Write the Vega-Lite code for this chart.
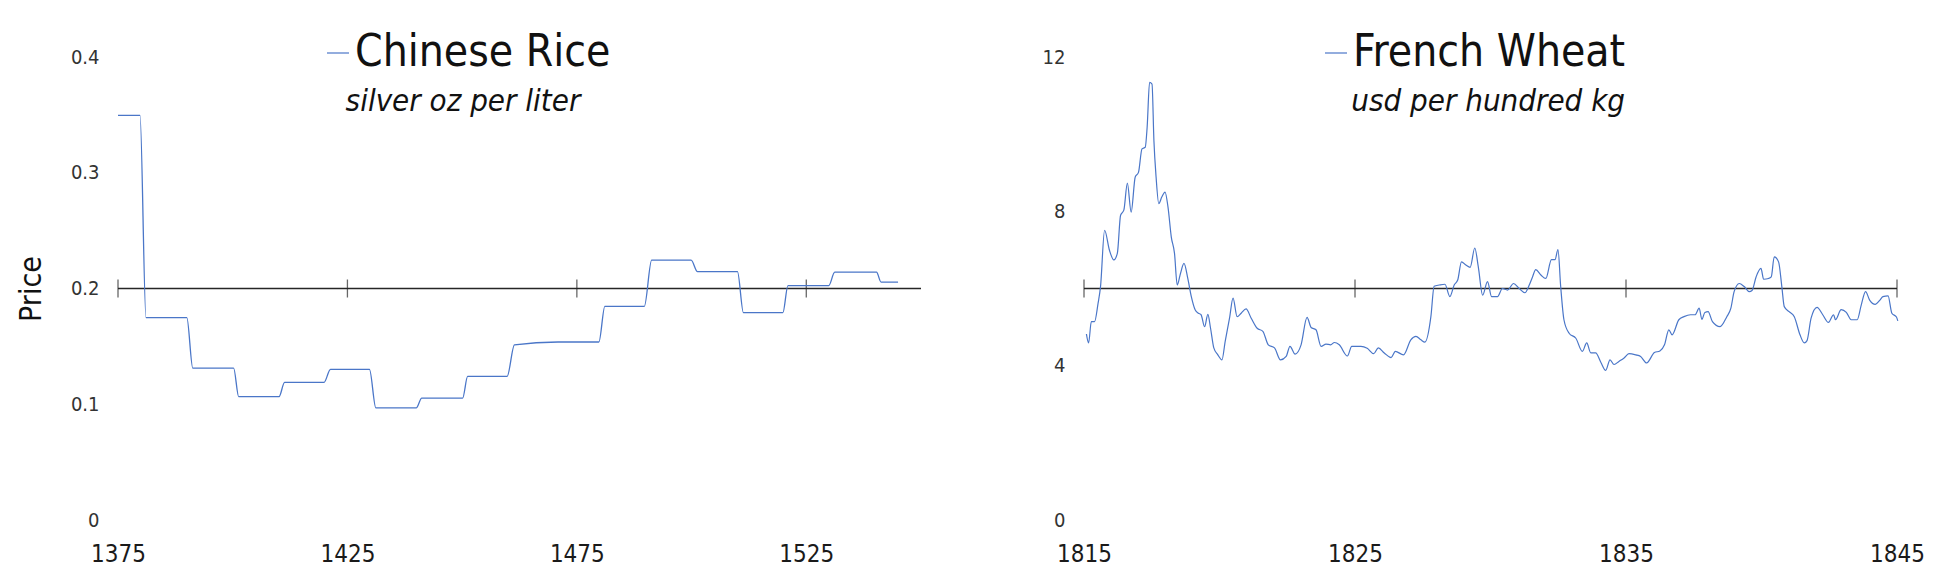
{
  "$schema": "https://vega.github.io/schema/vega-lite/v6.json",
  "padding": {"left": 16, "top": 31, "right": 0, "bottom": 0},
  "background": "white",
  "datasets": {
    "rice": [
      {"series": "Chinese Rice", "year": 1375, "price": 0.3495},
      {"series": "Chinese Rice", "year": 1379.8, "price": 0.3495},
      {"series": "Chinese Rice", "year": 1381.1, "price": 0.1749},
      {"series": "Chinese Rice", "year": 1390.0, "price": 0.1749},
      {"series": "Chinese Rice", "year": 1391.3, "price": 0.1312},
      {"series": "Chinese Rice", "year": 1400.2, "price": 0.1312},
      {"series": "Chinese Rice", "year": 1401.3, "price": 0.1066},
      {"series": "Chinese Rice", "year": 1410.1, "price": 0.1066},
      {"series": "Chinese Rice", "year": 1411.3, "price": 0.1189},
      {"series": "Chinese Rice", "year": 1419.9, "price": 0.1189},
      {"series": "Chinese Rice", "year": 1421.3, "price": 0.1302},
      {"series": "Chinese Rice", "year": 1429.8, "price": 0.1302},
      {"series": "Chinese Rice", "year": 1431.2, "price": 0.0968},
      {"series": "Chinese Rice", "year": 1440.0, "price": 0.0968},
      {"series": "Chinese Rice", "year": 1441.2, "price": 0.1053},
      {"series": "Chinese Rice", "year": 1450.1, "price": 0.1053},
      {"series": "Chinese Rice", "year": 1451.2, "price": 0.124},
      {"series": "Chinese Rice", "year": 1459.8, "price": 0.124},
      {"series": "Chinese Rice", "year": 1461.4, "price": 0.1513},
      {"series": "Chinese Rice", "year": 1470.9, "price": 0.1538},
      {"series": "Chinese Rice", "year": 1479.8, "price": 0.1538},
      {"series": "Chinese Rice", "year": 1481.1, "price": 0.1846},
      {"series": "Chinese Rice", "year": 1489.7, "price": 0.1846},
      {"series": "Chinese Rice", "year": 1491.3, "price": 0.2245},
      {"series": "Chinese Rice", "year": 1499.9, "price": 0.2245},
      {"series": "Chinese Rice", "year": 1501.3, "price": 0.2145},
      {"series": "Chinese Rice", "year": 1510.0, "price": 0.2145},
      {"series": "Chinese Rice", "year": 1511.3, "price": 0.1791},
      {"series": "Chinese Rice", "year": 1519.9, "price": 0.1791},
      {"series": "Chinese Rice", "year": 1521.0, "price": 0.2025},
      {"series": "Chinese Rice", "year": 1529.9, "price": 0.2025},
      {"series": "Chinese Rice", "year": 1531.2, "price": 0.2141},
      {"series": "Chinese Rice", "year": 1540.3, "price": 0.2141},
      {"series": "Chinese Rice", "year": 1541.3, "price": 0.2055},
      {"series": "Chinese Rice", "year": 1545.0, "price": 0.2055}
    ],
    "wheat": [
      {"series": "French Wheat", "year": 1815.09, "price": 4.82},
      {"series": "French Wheat", "year": 1815.17, "price": 4.59},
      {"series": "French Wheat", "year": 1815.27, "price": 5.14},
      {"series": "French Wheat", "year": 1815.39, "price": 5.14},
      {"series": "French Wheat", "year": 1815.52, "price": 5.62},
      {"series": "French Wheat", "year": 1815.61, "price": 6.05},
      {"series": "French Wheat", "year": 1815.76, "price": 7.51},
      {"series": "French Wheat", "year": 1815.94, "price": 6.99},
      {"series": "French Wheat", "year": 1816.1, "price": 6.74},
      {"series": "French Wheat", "year": 1816.23, "price": 6.91},
      {"series": "French Wheat", "year": 1816.35, "price": 7.9},
      {"series": "French Wheat", "year": 1816.47, "price": 8.03},
      {"series": "French Wheat", "year": 1816.6, "price": 8.73},
      {"series": "French Wheat", "year": 1816.74, "price": 7.98},
      {"series": "French Wheat", "year": 1816.89, "price": 8.89},
      {"series": "French Wheat", "year": 1817.01, "price": 9.01},
      {"series": "French Wheat", "year": 1817.14, "price": 9.62},
      {"series": "French Wheat", "year": 1817.26, "price": 9.66},
      {"series": "French Wheat", "year": 1817.33, "price": 10.18},
      {"series": "French Wheat", "year": 1817.42, "price": 11.34},
      {"series": "French Wheat", "year": 1817.51, "price": 11.3},
      {"series": "French Wheat", "year": 1817.58, "price": 9.83},
      {"series": "French Wheat", "year": 1817.66, "price": 8.89},
      {"series": "French Wheat", "year": 1817.76, "price": 8.2},
      {"series": "French Wheat", "year": 1817.87, "price": 8.37},
      {"series": "French Wheat", "year": 1817.99, "price": 8.5},
      {"series": "French Wheat", "year": 1818.1, "price": 8.11},
      {"series": "French Wheat", "year": 1818.22, "price": 7.34},
      {"series": "French Wheat", "year": 1818.34, "price": 6.91},
      {"series": "French Wheat", "year": 1818.44, "price": 6.09},
      {"series": "French Wheat", "year": 1818.56, "price": 6.39},
      {"series": "French Wheat", "year": 1818.69, "price": 6.65},
      {"series": "French Wheat", "year": 1818.83, "price": 6.26},
      {"series": "French Wheat", "year": 1818.96, "price": 5.79},
      {"series": "French Wheat", "year": 1819.1, "price": 5.45},
      {"series": "French Wheat", "year": 1819.22, "price": 5.36},
      {"series": "French Wheat", "year": 1819.32, "price": 5.32},
      {"series": "French Wheat", "year": 1819.45, "price": 5.01},
      {"series": "French Wheat", "year": 1819.57, "price": 5.33},
      {"series": "French Wheat", "year": 1819.67, "price": 4.97},
      {"series": "French Wheat", "year": 1819.79, "price": 4.46},
      {"series": "French Wheat", "year": 1819.94, "price": 4.28},
      {"series": "French Wheat", "year": 1820.09, "price": 4.15},
      {"series": "French Wheat", "year": 1820.21, "price": 4.63},
      {"series": "French Wheat", "year": 1820.37, "price": 5.23},
      {"series": "French Wheat", "year": 1820.5, "price": 5.75},
      {"series": "French Wheat", "year": 1820.65, "price": 5.27},
      {"series": "French Wheat", "year": 1820.8, "price": 5.36},
      {"series": "French Wheat", "year": 1820.98, "price": 5.47},
      {"series": "French Wheat", "year": 1821.17, "price": 5.23},
      {"series": "French Wheat", "year": 1821.39, "price": 4.97},
      {"series": "French Wheat", "year": 1821.6, "price": 4.89},
      {"series": "French Wheat", "year": 1821.8, "price": 4.54},
      {"series": "French Wheat", "year": 1822.03, "price": 4.46},
      {"series": "French Wheat", "year": 1822.25, "price": 4.15},
      {"series": "French Wheat", "year": 1822.46, "price": 4.24},
      {"series": "French Wheat", "year": 1822.6, "price": 4.5},
      {"series": "French Wheat", "year": 1822.79, "price": 4.3},
      {"series": "French Wheat", "year": 1823.01, "price": 4.54},
      {"series": "French Wheat", "year": 1823.23, "price": 5.25},
      {"series": "French Wheat", "year": 1823.38, "price": 4.99},
      {"series": "French Wheat", "year": 1823.56, "price": 4.93},
      {"series": "French Wheat", "year": 1823.75, "price": 4.5},
      {"series": "French Wheat", "year": 1823.93, "price": 4.56},
      {"series": "French Wheat", "year": 1824.1, "price": 4.54},
      {"series": "French Wheat", "year": 1824.24, "price": 4.6},
      {"series": "French Wheat", "year": 1824.42, "price": 4.54},
      {"series": "French Wheat", "year": 1824.72, "price": 4.25},
      {"series": "French Wheat", "year": 1824.88, "price": 4.5},
      {"series": "French Wheat", "year": 1825.22, "price": 4.5},
      {"series": "French Wheat", "year": 1825.45, "price": 4.45},
      {"series": "French Wheat", "year": 1825.69, "price": 4.31},
      {"series": "French Wheat", "year": 1825.86, "price": 4.46},
      {"series": "French Wheat", "year": 1826.08, "price": 4.33},
      {"series": "French Wheat", "year": 1826.33, "price": 4.21},
      {"series": "French Wheat", "year": 1826.49, "price": 4.37},
      {"series": "French Wheat", "year": 1826.79, "price": 4.28},
      {"series": "French Wheat", "year": 1827.06, "price": 4.67},
      {"series": "French Wheat", "year": 1827.25, "price": 4.76},
      {"series": "French Wheat", "year": 1827.43, "price": 4.67},
      {"series": "French Wheat", "year": 1827.58, "price": 4.61},
      {"series": "French Wheat", "year": 1827.8, "price": 5.27},
      {"series": "French Wheat", "year": 1827.92, "price": 6.06},
      {"series": "French Wheat", "year": 1828.11, "price": 6.09},
      {"series": "French Wheat", "year": 1828.32, "price": 6.11},
      {"series": "French Wheat", "year": 1828.5, "price": 5.79},
      {"series": "French Wheat", "year": 1828.66, "price": 6.09},
      {"series": "French Wheat", "year": 1828.79, "price": 6.22},
      {"series": "French Wheat", "year": 1828.93, "price": 6.69},
      {"series": "French Wheat", "year": 1829.09, "price": 6.61},
      {"series": "French Wheat", "year": 1829.25, "price": 6.55},
      {"series": "French Wheat", "year": 1829.42, "price": 7.05},
      {"series": "French Wheat", "year": 1829.55, "price": 6.56},
      {"series": "French Wheat", "year": 1829.71, "price": 5.83},
      {"series": "French Wheat", "year": 1829.89, "price": 6.18},
      {"series": "French Wheat", "year": 1830.04, "price": 5.79},
      {"series": "French Wheat", "year": 1830.26, "price": 5.79},
      {"series": "French Wheat", "year": 1830.44, "price": 6.0},
      {"series": "French Wheat", "year": 1830.63, "price": 5.96},
      {"series": "French Wheat", "year": 1830.85, "price": 6.13},
      {"series": "French Wheat", "year": 1831.06, "price": 6.0},
      {"series": "French Wheat", "year": 1831.27, "price": 5.89},
      {"series": "French Wheat", "year": 1831.43, "price": 6.09},
      {"series": "French Wheat", "year": 1831.55, "price": 6.3},
      {"series": "French Wheat", "year": 1831.67, "price": 6.49},
      {"series": "French Wheat", "year": 1831.86, "price": 6.35},
      {"series": "French Wheat", "year": 1832.04, "price": 6.26},
      {"series": "French Wheat", "year": 1832.25, "price": 6.75},
      {"series": "French Wheat", "year": 1832.38, "price": 6.75},
      {"series": "French Wheat", "year": 1832.49, "price": 7.01},
      {"series": "French Wheat", "year": 1832.59, "price": 6.05},
      {"series": "French Wheat", "year": 1832.71, "price": 5.19},
      {"series": "French Wheat", "year": 1832.9, "price": 4.84},
      {"series": "French Wheat", "year": 1833.15, "price": 4.71},
      {"series": "French Wheat", "year": 1833.39, "price": 4.37},
      {"series": "French Wheat", "year": 1833.55, "price": 4.59},
      {"series": "French Wheat", "year": 1833.7, "price": 4.33},
      {"series": "French Wheat", "year": 1833.88, "price": 4.33},
      {"series": "French Wheat", "year": 1834.07, "price": 4.09},
      {"series": "French Wheat", "year": 1834.25, "price": 3.88},
      {"series": "French Wheat", "year": 1834.41, "price": 4.15},
      {"series": "French Wheat", "year": 1834.56, "price": 4.03},
      {"series": "French Wheat", "year": 1834.74, "price": 4.11},
      {"series": "French Wheat", "year": 1834.93, "price": 4.2},
      {"series": "French Wheat", "year": 1835.11, "price": 4.31},
      {"series": "French Wheat", "year": 1835.36, "price": 4.28},
      {"series": "French Wheat", "year": 1835.54, "price": 4.24},
      {"series": "French Wheat", "year": 1835.76, "price": 4.07},
      {"series": "French Wheat", "year": 1836.05, "price": 4.34},
      {"series": "French Wheat", "year": 1836.25, "price": 4.38},
      {"series": "French Wheat", "year": 1836.42, "price": 4.54},
      {"series": "French Wheat", "year": 1836.58, "price": 4.93},
      {"series": "French Wheat", "year": 1836.7, "price": 4.8},
      {"series": "French Wheat", "year": 1836.95, "price": 5.19},
      {"series": "French Wheat", "year": 1837.14, "price": 5.27},
      {"series": "French Wheat", "year": 1837.38, "price": 5.32},
      {"series": "French Wheat", "year": 1837.55, "price": 5.32},
      {"series": "French Wheat", "year": 1837.7, "price": 5.49},
      {"series": "French Wheat", "year": 1837.8, "price": 5.2},
      {"series": "French Wheat", "year": 1837.91, "price": 5.38},
      {"series": "French Wheat", "year": 1838.03, "price": 5.4},
      {"series": "French Wheat", "year": 1838.19, "price": 5.14},
      {"series": "French Wheat", "year": 1838.47, "price": 5.01},
      {"series": "French Wheat", "year": 1838.72, "price": 5.27},
      {"series": "French Wheat", "year": 1838.87, "price": 5.49},
      {"series": "French Wheat", "year": 1838.99, "price": 5.92},
      {"series": "French Wheat", "year": 1839.18, "price": 6.13},
      {"series": "French Wheat", "year": 1839.36, "price": 6.05},
      {"series": "French Wheat", "year": 1839.55, "price": 5.92},
      {"series": "French Wheat", "year": 1839.65, "price": 5.95},
      {"series": "French Wheat", "year": 1839.8, "price": 6.3},
      {"series": "French Wheat", "year": 1839.98, "price": 6.52},
      {"series": "French Wheat", "year": 1840.08, "price": 6.24},
      {"series": "French Wheat", "year": 1840.26, "price": 6.26},
      {"series": "French Wheat", "year": 1840.36, "price": 6.3},
      {"series": "French Wheat", "year": 1840.47, "price": 6.82},
      {"series": "French Wheat", "year": 1840.63, "price": 6.69},
      {"series": "French Wheat", "year": 1840.75, "price": 6.05},
      {"series": "French Wheat", "year": 1840.84, "price": 5.53},
      {"series": "French Wheat", "year": 1841.02, "price": 5.4},
      {"series": "French Wheat", "year": 1841.21, "price": 5.27},
      {"series": "French Wheat", "year": 1841.42, "price": 4.8},
      {"series": "French Wheat", "year": 1841.58, "price": 4.59},
      {"series": "French Wheat", "year": 1841.68, "price": 4.65},
      {"series": "French Wheat", "year": 1841.83, "price": 5.23},
      {"series": "French Wheat", "year": 1842.05, "price": 5.51},
      {"series": "French Wheat", "year": 1842.26, "price": 5.32},
      {"series": "French Wheat", "year": 1842.47, "price": 5.12},
      {"series": "French Wheat", "year": 1842.66, "price": 5.32},
      {"series": "French Wheat", "year": 1842.73, "price": 5.19},
      {"series": "French Wheat", "year": 1842.94, "price": 5.45},
      {"series": "French Wheat", "year": 1843.13, "price": 5.38},
      {"series": "French Wheat", "year": 1843.31, "price": 5.19},
      {"series": "French Wheat", "year": 1843.53, "price": 5.19},
      {"series": "French Wheat", "year": 1843.68, "price": 5.57},
      {"series": "French Wheat", "year": 1843.84, "price": 5.92},
      {"series": "French Wheat", "year": 1843.99, "price": 5.7},
      {"series": "French Wheat", "year": 1844.2, "price": 5.59},
      {"series": "French Wheat", "year": 1844.36, "price": 5.69},
      {"series": "French Wheat", "year": 1844.48, "price": 5.79},
      {"series": "French Wheat", "year": 1844.67, "price": 5.81},
      {"series": "French Wheat", "year": 1844.81, "price": 5.36},
      {"series": "French Wheat", "year": 1844.98, "price": 5.26},
      {"series": "French Wheat", "year": 1845.03, "price": 5.16}
    ],
    "riceTicks": [{"year": 1375}, {"year": 1425}, {"year": 1475}, {"year": 1525}],
    "wheatTicks": [{"year": 1815}, {"year": 1825}, {"year": 1835}, {"year": 1845}]
  },
  "hconcat": [
    {
      "width": 803,
      "height": 463,
      "layer": [
        {
          "data": {"values": [{"cross": 0.2}]},
          "mark": {"type": "rule", "color": "#262626", "strokeWidth": 1.3},
          "encoding": {"y": {"field": "cross", "type": "quantitative"}}
        },
        {
          "data": {"name": "riceTicks"},
          "mark": {"type": "tick", "orient": "vertical", "size": 18, "thickness": 1.3, "color": "#262626"},
          "encoding": {
            "x": {"field": "year", "type": "quantitative", "scale": {"domain": [1375, 1550], "nice": false, "zero": false}},
            "y": {"datum": 0.2}
          }
        },
        {
          "data": {"name": "rice"},
          "mark": {"type": "line", "strokeWidth": 1.3, "interpolate": "monotone"},
          "encoding": {
            "x": {
              "field": "year", "type": "quantitative",
              "scale": {"domain": [1375, 1550], "nice": false, "zero": false},
              "axis": {"values": [1375, 1425, 1475, 1525], "format": "d", "title": null}
            },
            "y": {
              "field": "price", "type": "quantitative",
              "scale": {"domain": [0, 0.4], "nice": false},
              "axis": {"values": [0, 0.1, 0.2, 0.3, 0.4], "format": ".1~f", "title": "Price", "titleFontSize": 30, "titlePadding": 24}
            },
            "color": {
              "field": "series", "type": "nominal",
              "scale": {"domain": ["Chinese Rice"], "range": ["#4a76c8"]},
              "legend": {"legendX": 198, "legendY": -26, "title": "silver oz per liter"}
            }
          }
        }
      ]
    },
    {
      "width": 813,
      "height": 463,
      "layer": [
        {
          "data": {"values": [{"cross": 6}]},
          "mark": {"type": "rule", "color": "#262626", "strokeWidth": 1.3},
          "encoding": {"y": {"field": "cross", "type": "quantitative"}}
        },
        {
          "data": {"name": "wheatTicks"},
          "mark": {"type": "tick", "orient": "vertical", "size": 18, "thickness": 1.3, "color": "#262626"},
          "encoding": {
            "x": {"field": "year", "type": "quantitative", "scale": {"domain": [1815, 1845], "nice": false, "zero": false}},
            "y": {"datum": 6}
          }
        },
        {
          "data": {"name": "wheat"},
          "mark": {"type": "line", "strokeWidth": 1.2, "interpolate": "monotone"},
          "encoding": {
            "x": {
              "field": "year", "type": "quantitative",
              "scale": {"domain": [1815, 1845], "nice": false, "zero": false},
              "axis": {"values": [1815, 1825, 1835, 1845], "format": "d", "title": null}
            },
            "y": {
              "field": "price", "type": "quantitative",
              "scale": {"domain": [0, 12], "nice": false},
              "axis": {"values": [0, 4, 8, 12], "title": null}
            },
            "color": {
              "field": "series", "type": "nominal",
              "scale": {"domain": ["French Wheat"], "range": ["#4a76c8"]},
              "legend": {"legendX": 230, "legendY": -26, "title": "usd per hundred kg", "titleAnchor": "end", "titleAlign": "right"}
            }
          }
        }
      ]
    }
  ],
  "resolve": {
    "scale": {"x": "independent", "y": "independent", "color": "independent"},
    "axis": {"x": "independent", "y": "independent"},
    "legend": {"color": "independent"}
  },
  "config": {
    "font": "DejaVu Sans Condensed",
    "view": {"stroke": null},
    "concat": {"spacing": 120},
    "axis": {
      "grid": false,
      "domain": false,
      "ticks": false,
      "tickSize": 0,
      "labelFlush": false,
      "labelFont": "DejaVu Sans Condensed",
      "titleFont": "DejaVu Sans Condensed",
      "titleFontWeight": "normal",
      "titleColor": "#111111"
    },
    "axisX": {"labelFontSize": 24, "labelPadding": 22, "labelColor": "#1a1a1a"},
    "axisY": {"labelFontSize": 20, "labelPadding": 19, "labelColor": "#333333"},
    "legend": {
      "orient": "none",
      "titleOrient": "bottom",
      "titleAnchor": "middle",
      "titleAlign": "center",
      "titleFont": "DejaVu Sans Condensed",
      "titleFontStyle": "italic",
      "titleFontWeight": "normal",
      "titleFontSize": 31,
      "titleColor": "#111111",
      "titlePadding": 12,
      "titleLimit": 600,
      "labelFont": "DejaVu Sans Condensed",
      "labelFontSize": 44,
      "labelColor": "#111111",
      "labelLimit": 600,
      "labelOffset": -5,
      "symbolType": "stroke",
      "symbolSize": 484,
      "symbolStrokeWidth": 1.2,
      "padding": 0
    }
  }
}
